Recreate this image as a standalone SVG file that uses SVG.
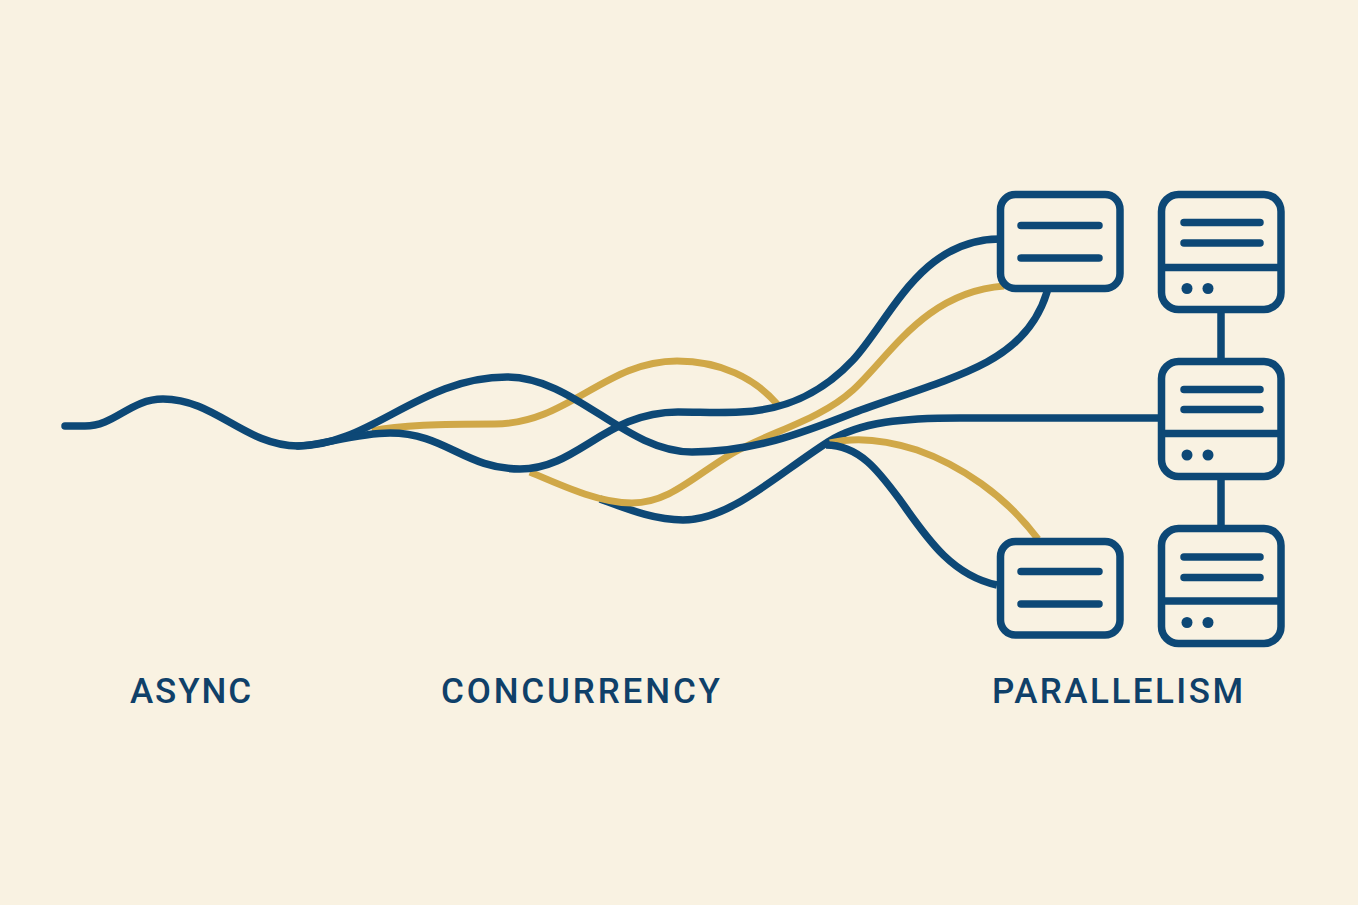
<svg xmlns="http://www.w3.org/2000/svg" width="1358" height="905" viewBox="0 0 1358 905">
<style>
.bg{fill:#f9f2e2}
.b{fill:none;stroke:#0d4876;stroke-width:7.500;stroke-linecap:round;stroke-linejoin:round}
.s{stroke-linecap:butt}
.g{fill:none;stroke:#d0a848;stroke-width:7;stroke-linecap:butt}
.box{fill:#f9f2e2;stroke:#0d4876;stroke-width:7.500}
.ln{fill:none;stroke:#0d4876;stroke-width:7.500;stroke-linecap:round}
.dv{fill:none;stroke:#0d4876;stroke-width:7.500}
.dot{fill:#0d4876}
.t{font-family:"Roboto",sans-serif;font-weight:500;font-size:35px;fill:#0f4069}
</style>
<rect class="bg" width="1358" height="905"/>
<g id="connectors">
<path class="b s" d="M600 499C630 510 655 520 683 520C730 520 775 476 828 442C860 421.500 905 418 960 418L1160 418"/>
<path class="g" d="M372 431C400 425 440 424 495 424C568 424 605 361 677 361C720 361 755 378 778 405"/>
<path class="g" d="M530 472C565 487 600 503 632 503C670 503 695 475 733 453C770 432 820 420 853 390C890 356 925 292 1004 286"/>
<path class="g" d="M830 443C850 438 880 438 917 450C960 465 1005 495 1038 539"/>
<path class="b" d="M65 426L85 426C115 426 130 399 163 399C215 399 245 446 298 446C370 446 420 377 507 377C575 377 625 452 692 452C752 452 800 434 853 413C895 397 950 382 987 362C1015 347 1037 325 1047 292"/>
<path class="b" d="M298 446C320 446 355 433 390 433C445 433 465 469 520 469C578 469 605 412 678 412C700 412 720 413 740 412C790 410 825 390 853 360C890 320 920 239 1000 239"/>
<path class="b s" d="M826 445C860 445 880 473 900 500C925 535 950 575 997 585"/>
<path class="dv" d="M1221 313V358M1221 479V525"/>
</g>
<g id="task-top"><rect class="box" x="1000.500" y="194.500" width="119.500" height="94" rx="15"/><path class="ln" d="M1021 225.500H1099M1021 258H1099"/></g>
<g id="task-bottom"><rect class="box" x="1000.500" y="541.500" width="119.500" height="93.500" rx="15"/><path class="ln" d="M1021 571.500H1099M1021 604H1099"/></g>
<g id="server-1"><rect class="box" x="1161.500" y="194.500" width="119.500" height="115" rx="17"/><path class="ln" d="M1184 222.500H1260M1184 243H1260"/><path class="dv" d="M1161.500 267.500H1281"/><circle class="dot" cx="1187" cy="288.500" r="5.500"/><circle class="dot" cx="1208" cy="288.500" r="5.500"/></g>
<g id="server-2"><rect class="box" x="1161.500" y="361.500" width="119.500" height="115" rx="17"/><path class="ln" d="M1184 389.500H1260M1184 409.500H1260"/><path class="dv" d="M1161.500 433.500H1281"/><circle class="dot" cx="1187" cy="455" r="5.500"/><circle class="dot" cx="1208" cy="455" r="5.500"/></g>
<g id="server-3"><rect class="box" x="1161.500" y="528.500" width="119.500" height="115" rx="17"/><path class="ln" d="M1184 557H1260M1184 577.500H1260"/><path class="dv" d="M1161.500 601H1281"/><circle class="dot" cx="1187" cy="622.500" r="5.500"/><circle class="dot" cx="1208" cy="622.500" r="5.500"/></g>
<g id="labels">
<text class="t" x="130" y="703" textLength="121" lengthAdjust="spacing">ASYNC</text>
<text class="t" x="441" y="703" textLength="279" lengthAdjust="spacing">CONCURRENCY</text>
<text class="t" x="992" y="703" textLength="251" lengthAdjust="spacing">PARALLELISM</text>
</g>
</svg>
